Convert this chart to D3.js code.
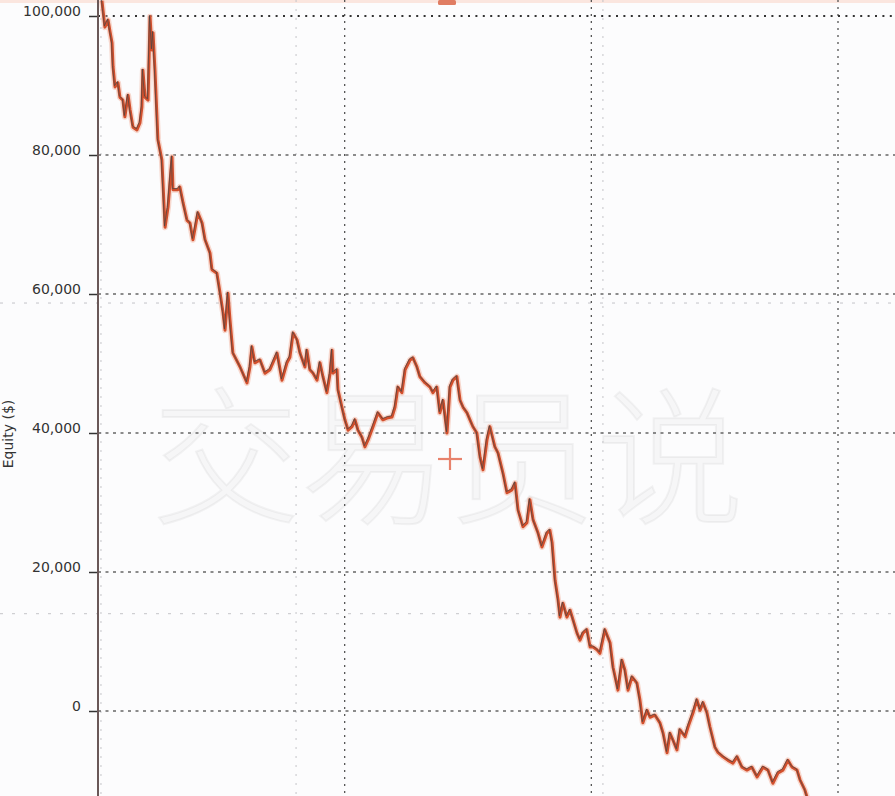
<!DOCTYPE html>
<html>
<head>
<meta charset="utf-8">
<script src="https://cdn.jsdelivr.net/npm/d3@7"></script>
<style>
  html, body { margin: 0; padding: 0; background: #fcfcfd; }
  svg { display: block; }
</style>
</head>
<body>
<svg id="chart" width="895" height="796"></svg>
<script>
// ---- data ----
const days = [1.6,2.0,2.8,4.1,4.9,5.7,6.1,6.9,8.1,8.9,10.1,10.9,12.2,13.0,14.2,15.8,17.0,17.8,18.2,19.1,20.3,21.1,21.9,22.3,23.1,24.3,25.9,27.2,28.4,30.0,30.4,32.4,33.2,34.5,36.1,37.3,38.5,40.5,42.2,43.4,45.4,46.2,48.2,49.5,50.7,51.5,52.7,53.5,54.7,57.6,60.4,61.6,62.4,63.6,65.7,67.7,69.7,72.6,74.6,76.6,77.8,79.1,80.7,81.9,83.9,84.7,85.9,87.2,88.8,90.0,91.2,92.8,94.1,94.9,95.3,96.9,97.3,98.9,100.1,101.4,103.0,104.2,105.4,107.0,108.2,109.5,111.5,113.5,115.5,117.6,119.2,120.4,121.6,123.2,124.5,126.5,127.7,129.3,130.5,132.6,134.6,135.8,137.4,138.6,139.9,141.5,142.7,143.9,145.5,146.8,148.0,149.6,150.8,152.0,153.6,154.9,156.1,157.7,158.9,160.9,162.2,164.2,165.8,167.8,169.1,170.3,172.3,173.9,175.1,176.4,178.4,180.0,182.0,183.2,184.1,185.3,186.5,187.3,188.5,190.1,191.4,192.6,194.2,195.4,196.6,198.2,199.5,200.7,202.3,203.5,205.5,207.6,208.8,210.8,212.4,213.6,214.9,216.5,218.5,219.7,220.9,222.6,223.8,225.8,227.8,229.1,230.7,231.9,233.1,234.7,235.9,238.0,239.2,241.2,242.8,244.1,245.3,246.9,248.1,250.1,251.4,253.4,255.4,257.4,259.1,261.1,263.1,265.1,267.2,269.6,271.6,273.6,275.7,277.7,279.7,281.4,283.4,284.6,286.6,287.8];
const equity = [102200,100900,98400,99400,97700,96100,92700,89800,90400,88300,87900,85500,88600,86500,84000,83600,84600,86900,92200,88300,87900,99900,95100,97600,92200,82200,79300,69600,72500,79700,75000,75000,75400,73100,70600,70200,67800,71700,70200,67800,65900,63500,63000,60100,57300,54800,60100,56300,51500,49500,47200,49500,52400,50100,50500,48600,49100,51500,47600,50100,50900,54400,53400,51500,49500,51900,49100,48600,47600,50100,48100,45800,48600,51900,48600,49100,46200,43700,41900,40400,40900,41900,40400,39400,38000,39000,40900,42900,41900,42200,42300,43700,46600,45800,49100,50500,50800,49500,48100,47200,46600,45800,46600,42900,44700,40000,46600,47600,48100,44700,43700,42900,41900,40900,40000,36500,34700,39000,40900,38000,37100,34200,31400,31800,32800,28900,26500,27100,30400,27500,25600,23600,25600,26000,24200,18800,16000,13500,15500,13500,14500,13100,11200,10200,11200,11700,9200,9200,8800,8300,11700,9800,6300,3000,7300,5900,3000,4900,4000,1600,-1700,100,-900,-600,-1700,-3200,-6000,-3200,-4200,-5600,-2700,-3700,-2300,-300,1600,100,1200,-300,-2300,-5200,-6000,-6600,-7100,-7500,-6600,-8100,-8500,-8100,-9500,-8100,-8500,-10400,-8900,-8500,-7100,-8100,-8500,-9900,-11400,-12800];
const yTicks = [0, 20000, 40000, 60000, 80000, 100000];
const xTicks = [100, 200, 300];
const ghostX = [1.2, 80.3, 204.7];
const ghostY = [58700, 14000];
const yTitle = "Equity ($)";
const watermark = "交易员说";

// ---- layout ----
const W = 895, H = 796;
const left = 98;
const svg = d3.select("#chart");

const x = d3.scaleLinear().domain([0, 300]).range([left, 838]);
const y = d3.scaleLinear().domain([0, 100000]).range([711, 16]);

// background
svg.append("rect").attr("width", W).attr("height", H).attr("fill", "#fcfcfd");

// header remnants at top
svg.append("rect").attr("x", 0).attr("y", 0).attr("width", W).attr("height", 3)
  .attr("fill", "#fbe6df");
svg.append("rect").attr("x", 438).attr("y", 0).attr("width", 18).attr("height", 5)
  .attr("rx", 1.5).attr("fill", "#e07d63");

// watermark
svg.append("text")
  .attr("x", 448).attr("y", 512)
  .attr("text-anchor", "middle")
  .attr("font-family", "'Noto Sans CJK SC', sans-serif")
  .attr("font-size", 148)
  .attr("font-weight", 300)
  .attr("fill", "rgba(0,0,0,0.025)")
  .attr("stroke", "rgba(0,0,0,0.045)")
  .attr("stroke-width", 2)
  .text(watermark);

// ghost (faint) grid
const g0 = svg.append("g");
g0.selectAll("line.gx").data(ghostX).join("line")
  .attr("x1", d => x(d)).attr("x2", d => x(d))
  .attr("y1", 0).attr("y2", H)
  .attr("stroke", "#c4c4c8").attr("stroke-width", 1).attr("stroke-dasharray", "2,7");
g0.selectAll("line.gy").data(ghostY).join("line")
  .attr("x1", 0).attr("x2", W)
  .attr("y1", d => y(d)).attr("y2", d => y(d))
  .attr("stroke", "#c4c4c8").attr("stroke-width", 1).attr("stroke-dasharray", "3,9");

// major grid
const g1 = svg.append("g");
g1.selectAll("line.vx").data(xTicks).join("line")
  .attr("x1", d => x(d)).attr("x2", d => x(d))
  .attr("y1", 0).attr("y2", H)
  .attr("stroke", "#555").attr("stroke-width", 1.3).attr("stroke-dasharray", "2,5");
g1.selectAll("line.hy").data(yTicks).join("line")
  .attr("x1", left).attr("x2", W)
  .attr("y1", d => y(d)).attr("y2", d => y(d))
  .attr("stroke", d => d === 100000 ? "#333" : "#666")
  .attr("stroke-width", d => d === 100000 ? 2 : 1.3)
  .attr("stroke-dasharray", d => d === 100000 ? "2,5.4" : "3,4.5");

// y axis
const yAxis = d3.axisLeft(y).tickValues(yTicks).tickFormat(d3.format(",")).tickSize(9).tickPadding(8);
const ga = svg.append("g").attr("transform", `translate(${left},0)`).call(yAxis);
ga.select(".domain").remove();
ga.selectAll(".tick line").attr("stroke", "#333").attr("stroke-width", 1.5);
ga.selectAll(".tick text")
  .attr("font-family", "'DejaVu Sans', sans-serif")
  .attr("font-size", 14)
  .attr("fill", "#333")
  .attr("dy", "-0.05em");
svg.append("line").attr("x1", left).attr("x2", left).attr("y1", 0).attr("y2", H)
  .attr("stroke", "#6a5858").attr("stroke-width", 2);

// y title
svg.append("text")
  .attr("transform", `translate(13,434) rotate(-90)`)
  .attr("text-anchor", "middle")
  .attr("font-family", "'DejaVu Sans', sans-serif")
  .attr("font-size", 14)
  .attr("fill", "#333")
  .text(yTitle);

// equity curve
svg.append("defs").append("clipPath").attr("id", "clip")
  .append("rect").attr("x", left + 1).attr("y", 0).attr("width", W - left).attr("height", H);
const pts = days.map((d, i) => [d, equity[i]]);
const line = d3.line().x(d => x(d[0])).y(d => y(d[1]));
const gc = svg.append("g").attr("clip-path", "url(#clip)");
gc.append("path").datum(pts).attr("d", line)
  .attr("fill", "none").attr("stroke", "#f2b9a8").attr("stroke-width", 6)
  .attr("stroke-opacity", 0.55).attr("stroke-linejoin", "round");
gc.append("path").datum(pts).attr("d", line)
  .attr("fill", "none").attr("stroke", "#d24f2c").attr("stroke-width", 3)
  .attr("stroke-linejoin", "round");
gc.append("path").datum(pts).attr("d", line)
  .attr("transform", "translate(-0.6,-1.2)")
  .attr("fill", "none").attr("stroke", "#444").attr("stroke-width", 1)
  .attr("stroke-opacity", 0.7).attr("stroke-linejoin", "round");

// crosshair marker
const cross = svg.append("g").attr("stroke", "#e8826c").attr("stroke-width", 2.2);
cross.append("line").attr("x1", 438).attr("x2", 462).attr("y1", 459).attr("y2", 459);
cross.append("line").attr("x1", 450).attr("x2", 450).attr("y1", 448).attr("y2", 470);
</script>
</body>
</html>
